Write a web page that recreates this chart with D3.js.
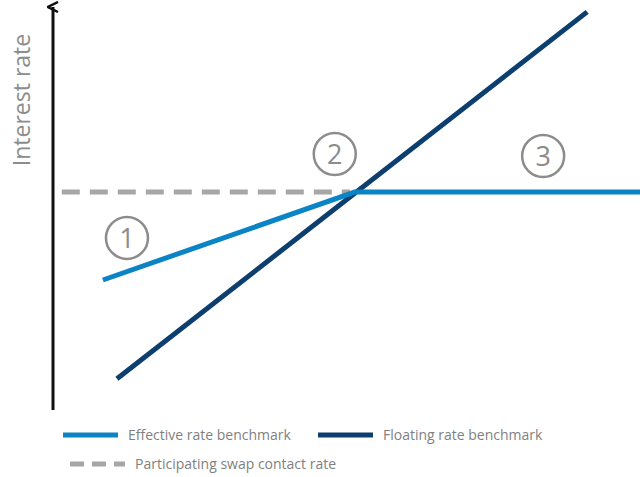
<!DOCTYPE html>
<html><head><meta charset="utf-8">
<script src="https://cdn.jsdelivr.net/npm/d3@7"></script>
<style>body{margin:0;background:#fff}</style>
</head><body><svg id="chart"></svg>
<script>
// Data in abstract units (0..100 on both axes)
const effectiveRate = [[8.5, 32.1], [51.4, 53.8], [100, 53.8]];
const floatingRate = [[10.9, 7.7], [91, 98.3]];
const swapRate = [[1.5, 53.8], [50.6, 53.8]];
const zoneLabels = [{ n: "1", x: 12.6, y: 42.5 }, { n: "2", x: 48, y: 63.2 }, { n: "3", x: 83.5, y: 62.7 }];
const legendItems = [
  { label: "Effective rate benchmark", color: "#0a84c4", dash: null, x: 63, y: 435 },
  { label: "Floating rate benchmark", color: "#0d3f6e", dash: null, x: 318, y: 435 },
  { label: "Participating swap contact rate", color: "#a6a6a6", dash: "14,8", x: 70, y: 464 }
];

const width = 640, height = 477;
const svg = d3.select("#chart").attr("width", width).attr("height", height);

const x = d3.scaleLinear().domain([0, 100]).range([53, 640]);
const y = d3.scaleLinear().domain([0, 100]).range([410, 5]);
const line = d3.line().x(d => x(d[0])).y(d => y(d[1]));

// Arrowhead for the y axis
svg.append("defs").append("marker")
  .attr("id", "arrowhead")
  .attr("viewBox", "0 0 12 12").attr("refX", 6).attr("refY", 6)
  .attr("markerWidth", 12).attr("markerHeight", 12)
  .attr("markerUnits", "userSpaceOnUse").attr("orient", "auto")
  .append("path").attr("d", "M1,11 L6,1 L11,11")
  .attr("fill", "none").attr("stroke", "#111").attr("stroke-width", 2.5);

svg.append("line")
  .attr("x1", x(0)).attr("x2", x(0)).attr("y1", y(0)).attr("y2", 7)
  .attr("stroke", "#111").attr("stroke-width", 3)
  .attr("marker-end", "url(#arrowhead)");

svg.append("text")
  .attr("transform", `translate(30,100) rotate(-90)`)
  .attr("text-anchor", "middle")
  .attr("font-family", "Open Sans, sans-serif").attr("font-size", 23)
  .attr("fill", "#8c8c8c").text("Interest rate");

// Series
svg.append("path").attr("d", line(swapRate))
  .attr("fill", "none").attr("stroke", "#a6a6a6").attr("stroke-width", 5)
  .attr("stroke-dasharray", "18,10");
svg.append("path").attr("d", line(floatingRate))
  .attr("fill", "none").attr("stroke", "#0d3f6e").attr("stroke-width", 5);
svg.append("path").attr("d", line(effectiveRate))
  .attr("fill", "none").attr("stroke", "#0a84c4").attr("stroke-width", 5);

// Zone markers
const zones = svg.selectAll(".zone").data(zoneLabels).enter().append("g")
  .attr("transform", d => `translate(${x(d.x)},${y(d.y)})`);
zones.append("circle").attr("r", 21)
  .attr("fill", "#fff").attr("fill-opacity", 0).attr("stroke", "#8c8c8c").attr("stroke-width", 2.5);
zones.append("text").attr("text-anchor", "middle").attr("dy", "0.36em")
  .attr("font-family", "Open Sans, sans-serif").attr("font-size", 27)
  .attr("fill", "#8c8c8c").text(d => d.n);

// Legend
const legend = svg.selectAll(".legend").data(legendItems).enter().append("g")
  .attr("transform", d => `translate(${d.x},${d.y})`);
legend.append("line").attr("x1", 0).attr("x2", 55)
  .attr("stroke", d => d.color).attr("stroke-width", 5)
  .attr("stroke-dasharray", d => d.dash);
legend.append("text").attr("x", 65).attr("dy", "0.35em")
  .attr("font-family", "Open Sans, sans-serif").attr("font-size", 14)
  .attr("fill", "#7f7f7f").text(d => d.label);
</script>
</body></html>
